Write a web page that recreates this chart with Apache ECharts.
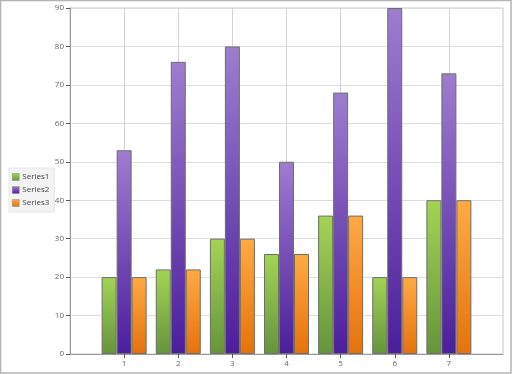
<!DOCTYPE html>
<html><head><meta charset="utf-8">
<script src="https://cdn.jsdelivr.net/npm/echarts@6/dist/echarts.min.js"></script>
<style>html,body{margin:0;padding:0;background:#fff}#c{width:512px;height:374px}</style>
</head><body><div id="c"></div>
<script>
const categories = ['', '1', '2', '3', '4', '5', '6', '7', ''];
const series1 = [null, 20, 22, 30, 26, 36, 20, 40, null];
const series2 = [null, 53, 76, 80, 50, 68, 90, 73, null];
const series3 = [null, 20, 22, 30, 26, 36, 20, 40, null];
const seriesNames = ['Series1', 'Series2', 'Series3'];

function grad(top, bottom) {
  return new echarts.graphic.LinearGradient(0, 0, 0, 1, [
    { offset: 0, color: top }, { offset: 1, color: bottom }
  ]);
}
const fills = [grad('#a3d455', '#65943c'), grad('#9e7dd0', '#4b1e9c'), grad('#ffaa44', '#e5720c')];
const legendColors = ['#8cc34a', '#6a3fb5', '#f98e22'];
const font = '"Open Sans", "Noto Sans", sans-serif';
const chart = echarts.init(document.getElementById('c'), null, { renderer: 'canvas' });
const mk = (name, data, i) => ({
  name, type: 'bar', data, barWidth: 15, barGap: '0%',
  itemStyle: { color: fills[i], borderColor: '#6e6e6e', borderWidth: 1 },
  emphasis: { disabled: true }
});
chart.setOption({
  animation: false,
  color: legendColors,
  graphic: [{ type: 'rect', shape: { x: 0.5, y: 0.5, width: 510.5, height: 372.5 }, style: { fill: 'none', stroke: '#b4b4b4', lineWidth: 1.5 }, silent: true }],
  grid: { left: 70, top: 8, right: 9, bottom: 20, show: true, borderColor: '#c8c8c8', borderWidth: 1 },
  legend: {
    orient: 'vertical', left: 9, top: 168, padding: [5, 5, 5, 3],
    itemWidth: 7, itemHeight: 7, itemGap: 5,
    backgroundColor: '#f4f4f4', borderColor: '#e6e6e6', borderWidth: 1,
    icon: 'rect',
    itemStyle: { borderColor: '#888', borderWidth: 0.5 },
    textStyle: { fontSize: 8, color: '#444', fontFamily: font, padding: [0, 0, 0, -2] },
    data: seriesNames
  },
  xAxis: {
    type: 'category', data: categories, boundaryGap: false,
    axisLine: { lineStyle: { color: '#9a9a9a' } },
    axisTick: { length: 4, lineStyle: { color: '#555' }, interval: (i) => i > 0 && i < categories.length - 1 },
    axisLabel: { fontSize: 8, color: '#666', fontFamily: font, margin: 6, interval: 0 },
    splitLine: { show: true, lineStyle: { color: '#d4d4d4' }, interval: (i) => i > 0 && i < categories.length - 1 }
  },
  yAxis: {
    type: 'value', min: 0, max: 90, interval: 10,
    axisLine: { show: true, lineStyle: { color: '#9a9a9a' } },
    axisTick: { show: true, length: 4, lineStyle: { color: '#555' } },
    axisLabel: { fontSize: 8, color: '#666', fontFamily: font, margin: 6 },
    splitLine: { lineStyle: { color: '#dedede' } }
  },
  series: [mk(seriesNames[0], series1, 0), mk(seriesNames[1], series2, 1), mk(seriesNames[2], series3, 2)]
});
</script></body></html>
